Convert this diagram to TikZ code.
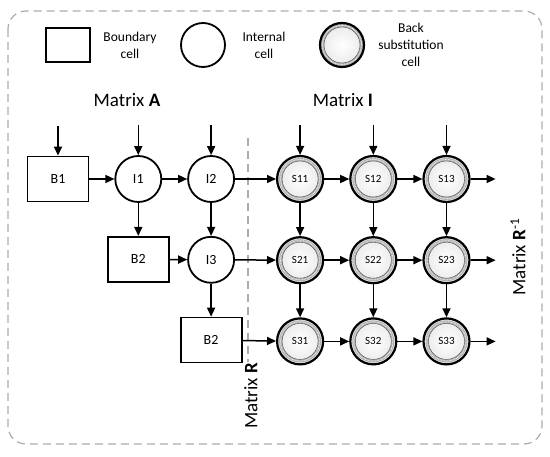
\documentclass[tikz,border=0pt]{standalone}
\usepackage{fontspec}
\setmainfont{Carlito}
\usetikzlibrary{positioning,arrows.meta}

\tikzset{
  bcell/.style={draw, line width=1.8pt, minimum width=61pt, minimum height=45pt, font=\fontsize{14}{16}\selectfont},
  icell/.style={draw, circle, line width=1.8pt, minimum size=46pt, inner sep=0pt, font=\fontsize{14}{16}\selectfont},
  bsub/.style={draw, circle, line width=2.2pt, minimum size=46pt, inner sep=0pt,
    inner color=white, outer color=gray!18, font=\fontsize{11}{13}\selectfont,
    path picture={
      \draw[gray!60, line width=2.8pt] (path picture bounding box.center) circle (19.6pt);
      \draw[white, line width=0.7pt, dash pattern=on 0.6pt off 0.9pt] (path picture bounding box.center) circle (19.6pt);
      \draw[black!75, line width=0.4pt] (path picture bounding box.center) circle (18pt);
    }},
  legend/.style={align=center, font=\fontsize{13.5}{17}\selectfont},
  mlabel/.style={font=\fontsize{19}{22}\selectfont},
  frame/.style={draw=gray!65, line width=1.2pt, dash pattern=on 8pt off 5pt},
}

\begin{document}
\begin{tikzpicture}[x=1pt, y=1pt, >={Triangle[length=9pt,width=8pt]}, node distance=33pt and 25pt]

  \useasboundingbox (0,0) rectangle (550,-457);
  \draw[frame, rounded corners=18pt] (8,-11) rectangle (542,-444);

  % legend
  \node[bcell, minimum width=44pt, minimum height=34pt] (lgb) at (68,-45) {};
  \node[legend] (lgbt) at (130,-45) {Boundary\\cell};
  \node[icell, minimum size=44pt] (lgi) at (203,-45) {};
  \node[legend] (lgit) at (264,-45) {Internal\\cell};
  \node[bsub, minimum size=44pt] (lgs) at (342,-45) {};
  \node[legend] (lgst) at (411,-45) {Back\\substitution\\cell};

  \node[mlabel] (ma) at (127,-100) {Matrix \textbf{A}};
  \node[mlabel] (mi) at (343,-100) {Matrix \textbf{I}};

  % triangular array
  \node[bcell] (b1) at (58,-179) {B1};
  \node[icell] (i1) [right=of b1] {I1};
  \node[icell] (i2) [right=of i1] {I2};
  \node[bcell] (b2) [below=of i1] {B2};
  \node[icell] (i3) [below=of i2] {I3};
  \node[bcell] (b3) [below=of i3] {B2};

  % back substitution array
  \node[bsub] (s11) [right=41pt of i2] {S11};
  \node[bsub] (s12) [right=of s11] {S12};
  \node[bsub] (s13) [right=of s12] {S13};
  \node[bsub] (s21) [below=of s11] {S21};
  \node[bsub] (s22) [below=of s12] {S22};
  \node[bsub] (s23) [below=of s13] {S23};
  \node[bsub] (s31) [below=of s21] {S31};
  \node[bsub] (s32) [below=of s22] {S32};
  \node[bsub] (s33) [below=of s23] {S33};

  \coordinate[above=30pt of b1] (b1in);
  \coordinate[above=30pt of i1] (i1in);
  \coordinate[above=30pt of i2] (i2in);
  \coordinate[above=30pt of s11] (s11in);
  \coordinate[above=30pt of s12] (s12in);
  \coordinate[above=30pt of s13] (s13in);
  \coordinate[right=25pt of s13] (s13out);
  \coordinate[right=25pt of s23] (s23out);
  \coordinate[right=25pt of s33] (s33out);

  \draw[frame] (248,-138) -- (248,-362);
  \node[mlabel, rotate=90] (mr) at (251,-396) {Matrix \textbf{R}};
  \node[mlabel, rotate=90] (mrinv) at (518,-257) {Matrix \textbf{R}\textsuperscript{-1}};

  \path[->, line width=1.5pt]
    (b1in) edge (b1) (i1in) edge (i1) (i2in) edge (i2)
    (s11in) edge (s11) (s12in) edge (s12) (s13in) edge (s13)
    (b1) edge (i1) (i1) edge (i2) (i2) edge (s11)
    (i1) edge (b2) (i2) edge (i3) (b2) edge (i3)
    (i3) edge (s21) (i3) edge (b3) (b3) edge (s31)
    (s11) edge (s12) (s12) edge (s13) (s13) edge (s13out)
    (s21) edge (s22) (s22) edge (s23) (s23) edge (s23out)
    (s31) edge (s32) (s32) edge (s33) (s33) edge (s33out)
    (s11) edge (s21) (s12) edge (s22) (s13) edge (s23)
    (s21) edge (s31) (s22) edge (s32) (s23) edge (s33);

\end{tikzpicture}
\end{document}
